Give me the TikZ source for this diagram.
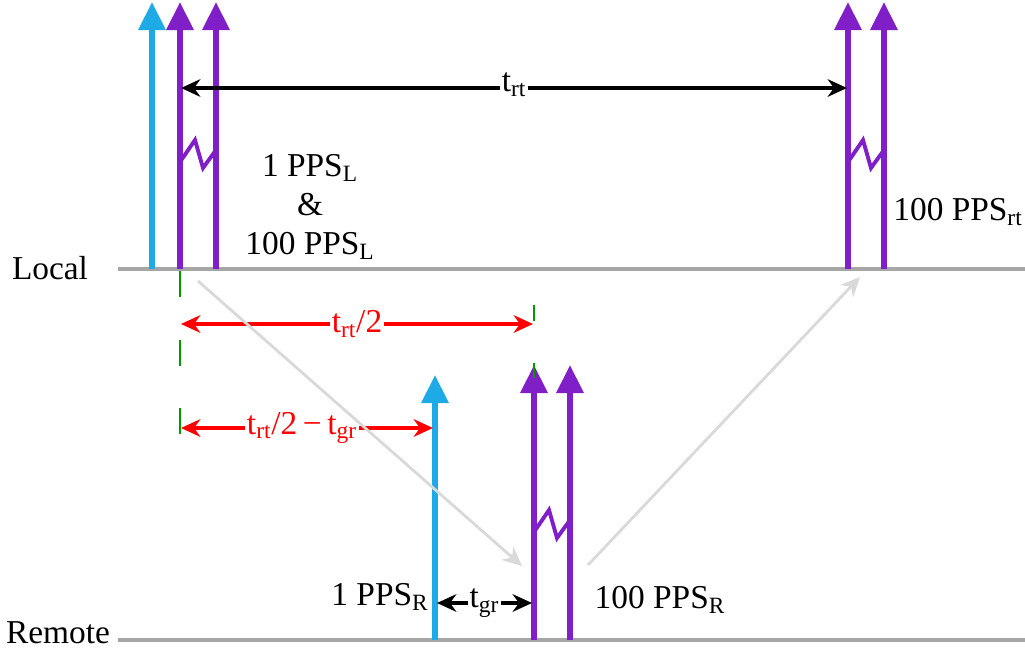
\documentclass[tikz,border=0pt]{standalone}
\usepackage{fontspec}
\setmainfont{Liberation Serif}
\usetikzlibrary{arrows.meta}
\definecolor{pv}{RGB}{128,30,200}
\definecolor{bl}{RGB}{30,170,230}
\begin{document}
\begin{tikzpicture}[x=0.02cm,y=-0.02cm,
  base/.style={line width=2.2pt,draw=gray!70},
  sig/.style={line width=3.2pt,-{Triangle[width=15pt,length=16pt]}},
  blu/.style={sig,draw=bl,fill=bl},
  pur/.style={sig,draw=pv,fill=pv},
  zig/.style={line width=2.2pt,draw=pv},
  dim/.style={line width=1.8pt,{Stealth[length=11pt,width=10pt]}-{Stealth[length=11pt,width=10pt]}},
  gd/.style={line width=1.6pt,draw=green!60!black,dash pattern=on 15pt off 24pt},
  ga/.style={line width=1.6pt,draw=gray!30,-{Stealth[length=11pt,width=10pt]}},
  lbl/.style={font=\fontsize{19}{22}\selectfont}]
\useasboundingbox (0,0) rectangle (1025,647);
% baselines
\coordinate (l0) at (118,269); \coordinate (l1) at (1025,269);
\coordinate (r0) at (118,640); \coordinate (r1) at (1025,640);
\draw[base] (l0) -- (l1);
\draw[base] (r0) -- (r1);
\node[lbl] (loc) at (50,268) {Local};
\node[lbl] (rem) at (58,633) {Remote};
% local arrows
\coordinate (a1) at (152,269); \coordinate (a1t) at (152,2);
\coordinate (a2) at (180,269); \coordinate (a2t) at (180,2);
\coordinate (a3) at (216,269); \coordinate (a3t) at (216,2);
\draw[blu] (a1) -- (a1t);
\draw[pur] (a2) -- (a2t);
\draw[pur] (a3) -- (a3t);
\draw[zig] (180,162) -- (195,140) -- (203,168) -- (216,150);
% right local
\coordinate (b1) at (848,269); \coordinate (b1t) at (848,2);
\coordinate (b2) at (884,269); \coordinate (b2t) at (884,2);
\draw[pur] (b1) -- (b1t);
\draw[pur] (b2) -- (b2t);
\draw[zig] (848,162) -- (863,140) -- (871,168) -- (884,150);
% remote
\coordinate (c1) at (435,640); \coordinate (c1t) at (435,375);
\coordinate (c2) at (534,640); \coordinate (c2t) at (534,365);
\coordinate (c3) at (570,640); \coordinate (c3t) at (570,365);
\draw[blu] (c1) -- (c1t);
\draw[pur] (c2) -- (c2t);
\draw[pur] (c3) -- (c3t);
\draw[zig] (534,532) -- (549,510) -- (557,538) -- (570,520);
% green dashed
\draw[gd] (180,271) -- (180,442);
\draw[gd,dash phase=6pt] (534,305) -- (534,378);
% t_rt
\coordinate (t1) at (181,88); \coordinate (t2) at (847,88);
\draw[dim] (t1) -- node[lbl,fill=white,inner sep=1pt,yshift=2pt] {t\textsubscript{rt}} (t2);
% red dims
\draw[dim,red] (181,324) -- node[lbl,fill=white,inner sep=1pt] {t\textsubscript{rt}/2} (533,324);
\draw[dim,red] (181,428) -- node[lbl,fill=white,inner sep=1pt,pos=0.48] {t\textsubscript{rt}/2\,\textminus\,t\textsubscript{gr}} (433,428);
% t_gr
\draw[dim] (437,603) -- node[lbl,fill=white,inner sep=1pt] {t\textsubscript{gr}} (532,603);
% gray path arrows
\draw[ga] (198,281) -- (522,566);
\draw[ga] (588,565) -- (860,277);
% labels
\node[lbl,align=center] (pl) at (310,207) {1 PPS\textsubscript{L}\\\&\\100 PPS\textsubscript{L}};
\node[lbl] (prt) at (958,212) {100 PPS\textsubscript{rt}};
\node[lbl] (pr) at (380,597) {1 PPS\textsubscript{R}};
\node[lbl] (prr) at (660,600) {100 PPS\textsubscript{R}};
\end{tikzpicture}
\end{document}
